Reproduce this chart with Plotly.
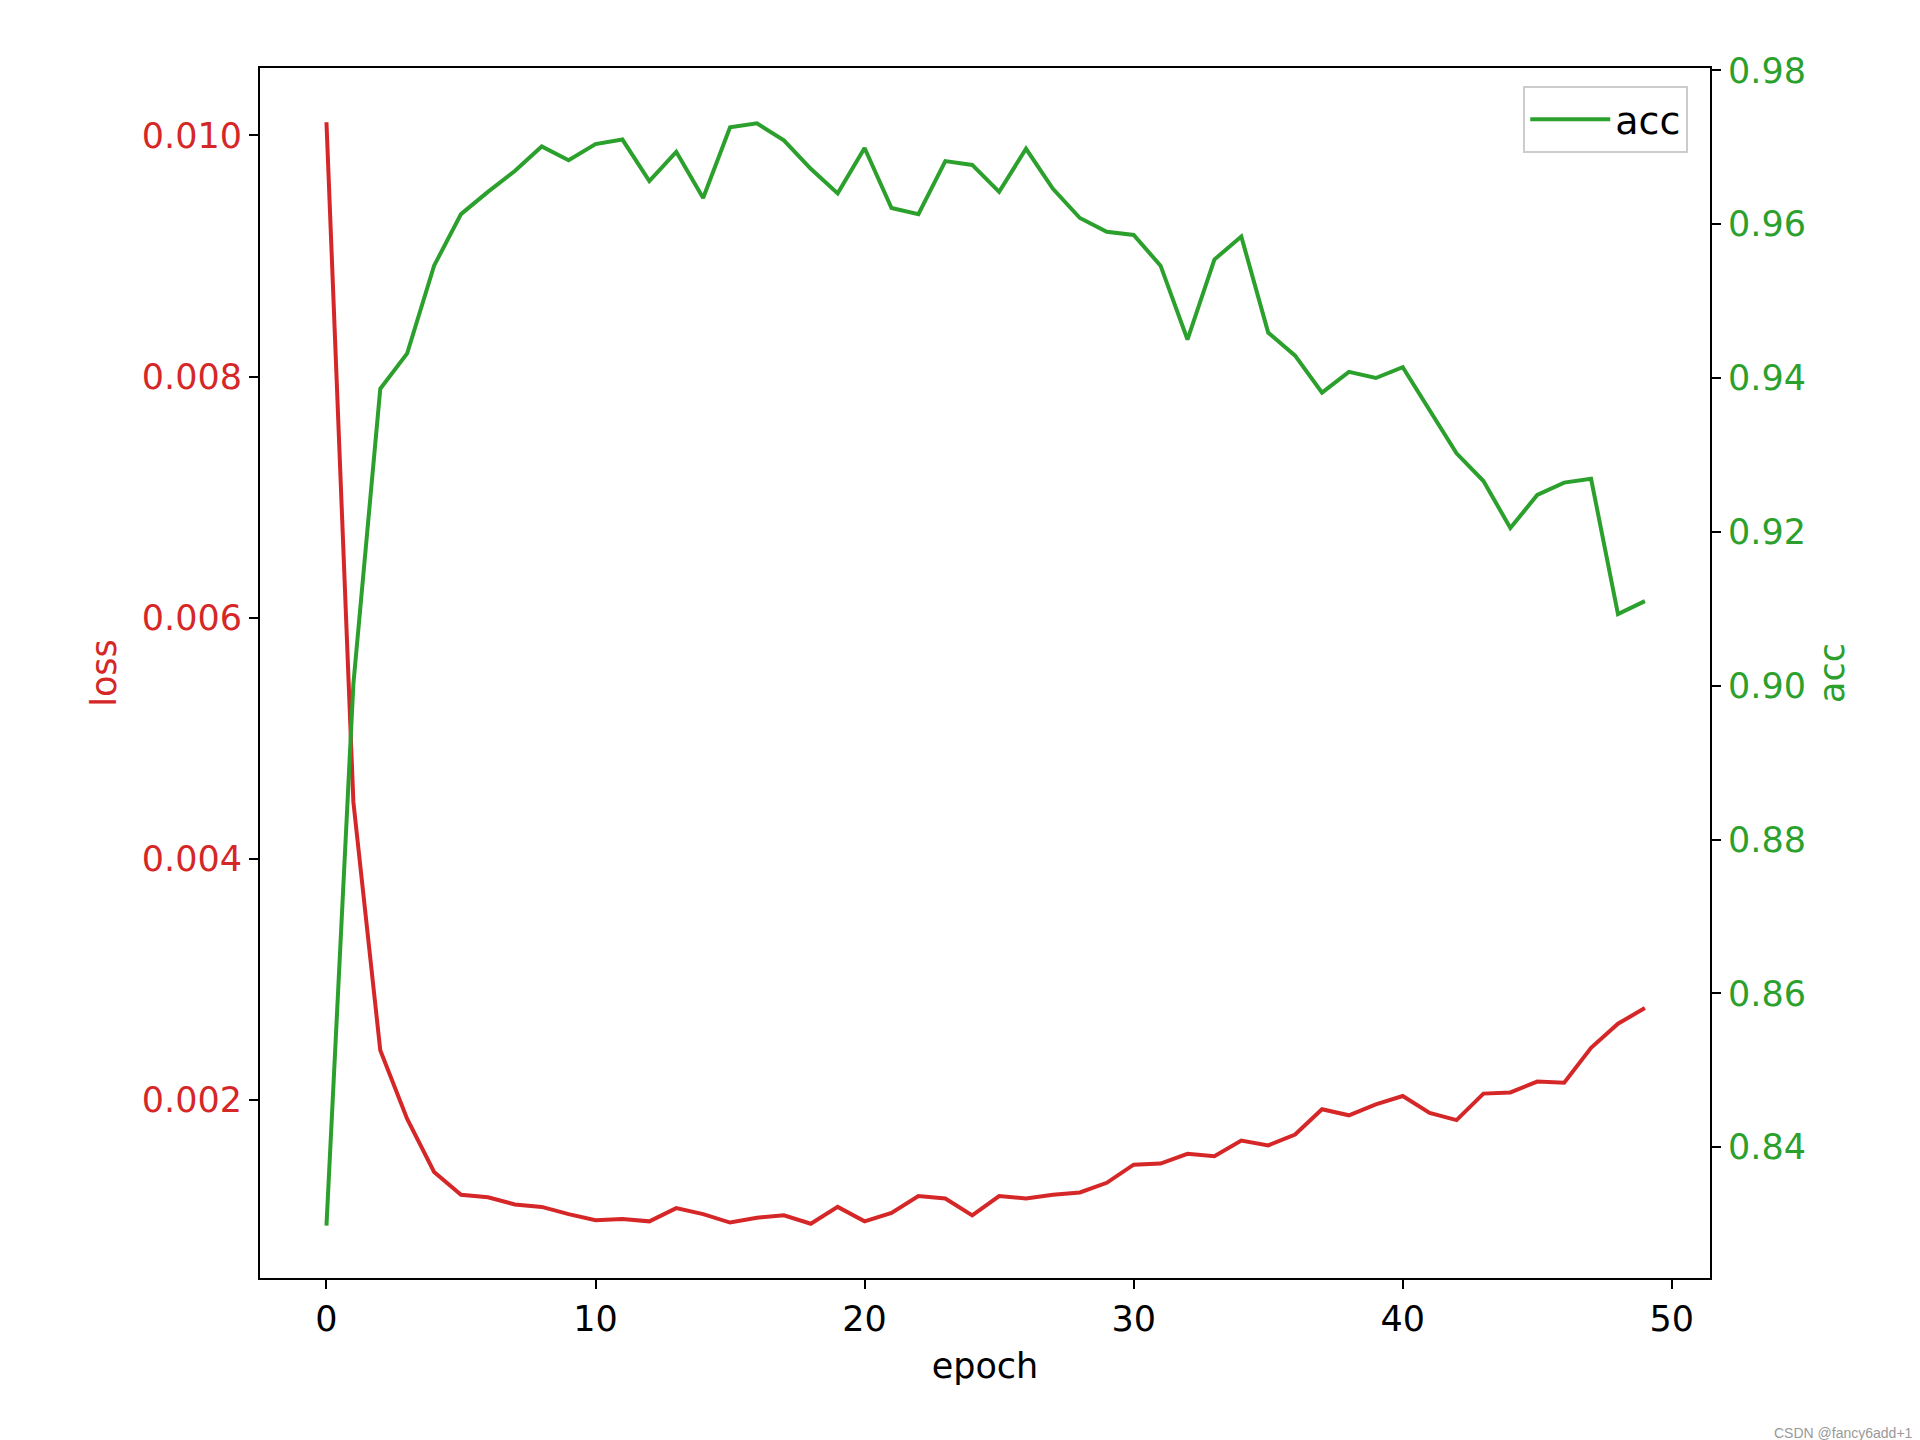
import plotly.graph_objects as go

epochs = list(range(50))
loss = [0.01011, 0.00447, 0.00241, 0.00184, 0.00140, 0.00121, 0.00119, 0.00113, 0.00111, 0.00105,
        0.00100, 0.00101, 0.00099, 0.00110, 0.00105, 0.00098, 0.00102, 0.00104, 0.00097, 0.00111,
        0.00099, 0.00106, 0.00120, 0.00118, 0.00104, 0.00120, 0.00118, 0.00121, 0.00123, 0.00131,
        0.00146, 0.00147, 0.00155, 0.00153, 0.00166, 0.00162, 0.00171, 0.00192, 0.00187, 0.00196,
        0.00203, 0.00189, 0.00183, 0.00205, 0.00206, 0.00215, 0.00214, 0.00243, 0.00263, 0.00276]
acc = [0.8298, 0.9002, 0.9386, 0.9432, 0.9546, 0.9613, 0.9642, 0.9669, 0.9701, 0.9683,
       0.9704, 0.9710, 0.9656, 0.9694, 0.9634, 0.9726, 0.9731, 0.9709, 0.9672, 0.9640,
       0.9699, 0.9621, 0.9613, 0.9682, 0.9677, 0.9642, 0.9698, 0.9646, 0.9608, 0.9590,
       0.9586, 0.9546, 0.9450, 0.9554, 0.9584, 0.9459, 0.9429, 0.9381, 0.9408, 0.9400,
       0.9414, 0.9358, 0.9302, 0.9266, 0.9205, 0.9248, 0.9264, 0.9269, 0.9093, 0.9110]

RED = "#d62728"
GREEN = "#2ca02c"
FONT = "DejaVu Sans"
FS = 35

fig = go.Figure()
fig.add_trace(go.Scatter(x=epochs, y=loss, mode="lines", line=dict(color=RED, width=4),
                         name="loss", showlegend=False))
fig.add_trace(go.Scatter(x=epochs, y=acc, mode="lines", line=dict(color=GREEN, width=4),
                         name="acc", yaxis="y2"))

axis_common = dict(showgrid=False, zeroline=False, ticks="outside", ticklen=9, tickwidth=2,
                   linecolor="black", linewidth=2, tickcolor="black")

fig.update_layout(
    width=1920, height=1440,
    paper_bgcolor="white", plot_bgcolor="white",
    font=dict(family=FONT, color="black", size=FS),
    margin=dict(l=252, r=218, t=60, b=170),
    showlegend=True,
    legend=dict(x=0.985, y=0.985, xanchor="right", yanchor="top",
                bgcolor="white", bordercolor="#cccccc", borderwidth=2,
                font=dict(size=38), itemwidth=80),
    xaxis=dict(range=[-2.47, 51.42], tickvals=[0, 10, 20, 30, 40, 50],
               title=dict(text="epoch", font=dict(size=FS)),
               mirror=True, tickfont=dict(size=FS), **axis_common),
    yaxis=dict(range=[0.00052, 0.01056], tickvals=[0.002, 0.004, 0.006, 0.008, 0.010],
               tickformat=".3f",
               title=dict(text="loss", font=dict(size=FS, color=RED)),
               tickfont=dict(size=FS, color=RED), mirror=True, **axis_common),
    yaxis2=dict(range=[0.823, 0.9803], tickvals=[0.84, 0.86, 0.88, 0.90, 0.92, 0.94, 0.96, 0.98],
                tickformat=".2f", overlaying="y", side="right",
                title=dict(text="acc", font=dict(size=FS, color=GREEN)),
                tickfont=dict(size=FS, color=GREEN), **axis_common),
)

fig.add_annotation(text="CSDN @fancy6add+1", x=1, y=0, xref="paper", yref="paper",
                   xanchor="right", yanchor="bottom", xshift=205, yshift=-165,
                   showarrow=False, font=dict(size=14, color="#999999", family="Liberation Sans"))

fig.write_html("out.html")
